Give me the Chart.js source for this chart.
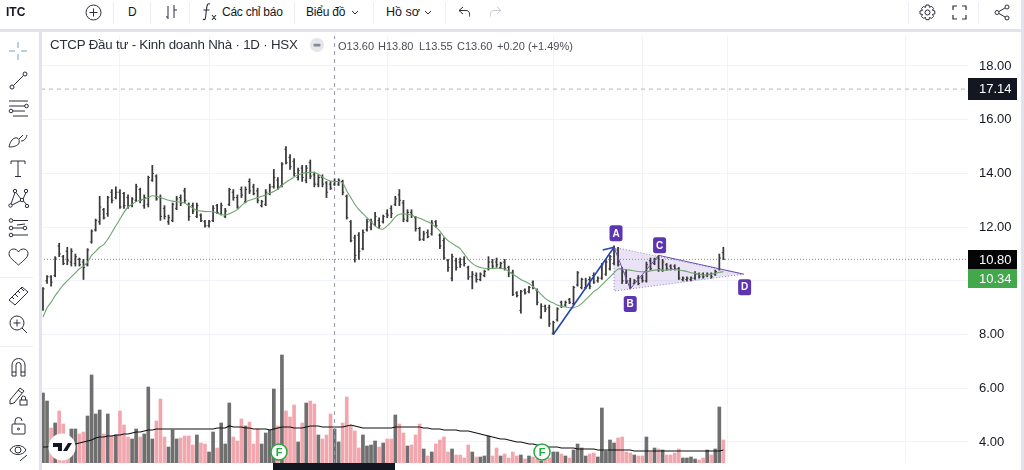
<!DOCTYPE html>
<html lang="vi"><head><meta charset="utf-8"><title>ITC</title>
<script src="https://cdn.jsdelivr.net/npm/chart.js@4"></script>
<style>
html,body{margin:0;padding:0;background:#fff;width:1024px;height:470px;overflow:hidden;font-family:"Liberation Sans",Arial,sans-serif;color:#131722}
#wrap{position:relative;width:1024px;height:470px;overflow:hidden}
canvas{position:absolute;left:0;top:0;z-index:1}
.bar{position:absolute;z-index:2;background:#fff}
.sep{position:absolute;z-index:3;background:#e0e3eb}
.vl{position:absolute;z-index:3;top:2px;width:1px;height:22px;background:#eceef3}
.t{position:absolute;z-index:3;white-space:nowrap;line-height:16px}
svg.i{position:absolute;z-index:3;overflow:visible;fill:none;stroke:#2a2e39;stroke-width:1}
</style></head><body><div id="wrap">
<canvas id="c" width="1024" height="470"></canvas>
<div class="bar" style="left:0;top:0;width:1024px;height:29px"></div>
<div class="bar" style="left:0;top:29px;width:39px;height:441px"></div>
<div class="sep" style="left:0;top:29px;width:1024px;height:3px"></div>
<div class="sep" style="left:39px;top:29px;width:3px;height:441px"></div>
<div class="sep" style="left:1021px;top:0;width:3px;height:470px"></div>
<div class="bar" style="left:273px;top:463px;width:122px;height:7px;background:#131722"></div>

<div class="t" style="left:6px;top:4px;font-size:12px;font-weight:bold">ITC</div>
<div class="t" style="left:128px;top:4px;font-size:12px">D</div>
<div class="t" style="left:222px;top:4px;font-size:12px;letter-spacing:-.25px">Các chỉ báo</div>
<div class="t" style="left:306px;top:4px;font-size:12px;letter-spacing:-.2px">Biểu đồ</div>
<div class="t" style="left:386px;top:4px;font-size:12.5px">Hồ sơ</div>
<div class="vl" style="left:113px"></div><div class="vl" style="left:150px"></div><div class="vl" style="left:189px"></div>
<div class="vl" style="left:294px"></div><div class="vl" style="left:373px"></div><div class="vl" style="left:445px"></div>
<div class="vl" style="left:908px"></div><div class="vl" style="left:978px"></div>

<svg class="i" style="left:85px;top:4px" width="17" height="17"><circle cx="8.5" cy="8.5" r="7.5"/><path d="M8.5 4.5v8M4.5 8.5h8"/></svg>
<svg class="i" style="left:163px;top:3px" width="16" height="18"><path d="M5 3v13M3 14h2M11 2v13M11 7h3M3 15" /></svg>
<svg class="i" style="left:201px;top:2px" width="18" height="20"><path d="M9 2c-3-1-3 2-3.500 5l-1 9c-.3 2-2 2-2.500 1M2.500 8h6M11 13l4 5M15 13l-4 5" stroke-width="1.1"/></svg>
<svg class="i" style="left:351px;top:10px" width="9" height="6"><path d="M1 1l3 3 3-3"/></svg>
<svg class="i" style="left:424px;top:10px" width="9" height="6"><path d="M1 1l3 3 3-3"/></svg>
<svg class="i" style="left:458px;top:6px" width="13" height="12"><path d="M5 1L1 4.500l4 3.500M1 4.500h7c3 0 4 2.500 3.500 6"/></svg>
<svg class="i" style="left:489px;top:6px;stroke:#c8ccd6" width="13" height="12"><path d="M8 1l4 3.500-4 3.500M12 4.500h-7c-3 0-4 2.500-3.500 6"/></svg>
<svg class="i" style="left:919px;top:4px" width="17" height="17"><circle cx="8.500" cy="8.500" r="2.500"/><path d="M7 1h3l.5 2.300 2-1 2 2-1 2 2.300.6v3l-2.300.5 1 2-2 2-2-1-.5 2.300H7l-.5-2.300-2 1-2-2 1-2L1 10V7l2.500-.6-1-2 2-2 2 1z"/></svg>
<svg class="i" style="left:952px;top:5px" width="15" height="15"><path d="M1 5V1h4M10 1h4v4M14 10v4h-4M5 14H1v-4" stroke-width="1.2"/></svg>
<svg class="i" style="left:994px;top:4px" width="16" height="17"><circle cx="3" cy="8.500" r="2"/><circle cx="13" cy="3" r="2"/><circle cx="13" cy="14" r="2"/><path d="M5 7.500l6-3.500M5 9.500l6 3.500"/></svg>

<svg class="i" style="left:8px;top:41px;stroke:#7f9cc4" width="20" height="20"><path d="M10 1v6M10 13v6M1 10h6M13 10h6"/></svg>
<svg class="i" style="left:9px;top:71px" width="19" height="19"><circle cx="3" cy="16" r="2"/><circle cx="16" cy="3" r="2"/><path d="M4.500 14.500l10-10"/></svg>
<svg class="i" style="left:8px;top:100px" width="21" height="19"><path d="M1 1h19M1 6h16M5 11h12M5 16h15"/><circle cx="18.500" cy="6" r="1.800"/><circle cx="3" cy="11" r="1.800"/></svg>
<svg class="i" style="left:8px;top:130px" width="21" height="19"><path d="M1 17c1-5 3-8 6-9 3-1 5 2 4 5-1 3-6 4-10 4zM11 9l4-4M13 11c3 0 5-2 6-6"/></svg>
<svg class="i" style="left:10px;top:160px" width="16" height="18"><path d="M1 4V1h14v3M8 1v15M5 16.500h6"/></svg>
<svg class="i" style="left:8px;top:188px" width="21" height="21"><circle cx="2.500" cy="17.500" r="1.700"/><circle cx="7" cy="3" r="1.700"/><circle cx="18" cy="3" r="1.700"/><circle cx="14" cy="12" r="1.700"/><circle cx="19" cy="18" r="1.700"/><path d="M3 16L7 4.500M8 4.500l5 6.500M15 11L18 4.500M15.500 13l3 3.500M4 17l9-4.500"/></svg>
<svg class="i" style="left:8px;top:218px" width="21" height="19"><circle cx="3" cy="2.500" r="1.800"/><circle cx="3" cy="10" r="1.800"/><circle cx="3" cy="17" r="1.800"/><circle cx="17" cy="10" r="1.800"/><path d="M5 2.500h15M5 10h10M5 17h15M9 7l8-1" /></svg>
<svg class="i" style="left:8px;top:248px" width="21" height="18"><path d="M10.500 17C5 12 1 9.500 1 5.500 1 3 3 1 5.500 1c2 0 4 1 5 3 1-2 3-3 5-3C18 1 20 3 20 5.500c0 4-4 6.500-9.500 11.500z"/></svg>
<div class="sep" style="left:0;top:277px;width:33px;height:1px;background:#eceef3"></div>
<svg class="i" style="left:8px;top:286px" width="21" height="20"><path d="M1 14L14 1l6 5L7 19zM4 11l2 2M7 8l3 3M10 5l2 2M13 2l3 3"/></svg>
<svg class="i" style="left:9px;top:315px" width="19" height="19"><circle cx="8" cy="8" r="7"/><path d="M8 4.500v7M4.500 8h7M13 13l5 5"/></svg>
<div class="sep" style="left:0;top:346px;width:33px;height:1px;background:#eceef3"></div>
<svg class="i" style="left:11px;top:357px" width="15" height="20"><path d="M1 19V8a6.500 6.500 0 0 1 13 0v11h-4V8a2.500 2.500 0 0 0-5 0v11zM1 15h4M10 15h4"/></svg>
<svg class="i" style="left:9px;top:386px" width="19" height="20"><path d="M1 14L11 2l4 3L5 17l-4 1zM9 4l4 3"/><rect x="11" y="14" width="7" height="5"/><path d="M12.500 14v-2a2 2 0 0 1 4 0v2"/></svg>
<svg class="i" style="left:11px;top:416px" width="15" height="19"><rect x="1" y="8" width="13" height="10" rx="1"/><path d="M4 8V5a3.500 3.500 0 0 1 7 0"/><circle cx="7.500" cy="13" r="1"/></svg>
<svg class="i" style="left:9px;top:443px" width="20" height="20"><path d="M1 7c3-6 13-6 16 0-3 6-13 6-16 0z"/><circle cx="9" cy="7" r="3"/><path d="M12 17l6-5M12 17l-1 1"/></svg>

<div class="t" style="left:50px;top:37px;font-size:13.3px;letter-spacing:-.2px;color:#2a2e39">CTCP Đầu tư - Kinh doanh Nhà · 1D · HSX</div>
<svg class="i" style="left:309px;top:37px;stroke:none" width="16" height="16"><circle cx="8" cy="8" r="7" fill="#e4e6ec"/><rect x="4.500" y="6.800" width="7" height="2.600" rx="1" fill="#868993"/></svg>
<div class="t" style="left:338px;top:38px;font-size:11px;color:#4a4e59">O13.60</div>
<div class="t" style="left:378px;top:38px;font-size:11px;color:#4a4e59">H13.80</div>
<div class="t" style="left:419px;top:38px;font-size:11px;color:#4a4e59">L13.55</div>
<div class="t" style="left:457px;top:38px;font-size:11px;color:#4a4e59">C13.60</div>
<div class="t" style="left:497px;top:38px;font-size:11px;color:#4a4e59">+0.20 (+1.49%)</div>

<svg class="i" style="left:48px;top:433px;stroke:none" width="28" height="28"><circle cx="14" cy="14" r="13.500" fill="#fff"/><path d="M5 10h9v8h-4v-4H5zM20 10h4l-5 8h-4z" fill="#131722"/></svg>
<svg class="i" style="left:270px;top:443px;stroke:none" width="18" height="18"><circle cx="9" cy="9" r="8" fill="#fff" stroke="#22ab3e" stroke-width="1.500"/><text x="9" y="13" text-anchor="middle" font-size="11" font-weight="bold" fill="#22ab3e" font-family="Liberation Sans">F</text></svg>
<svg class="i" style="left:533px;top:443px;stroke:none" width="18" height="18"><circle cx="9" cy="9" r="8" fill="#fff" stroke="#22ab3e" stroke-width="1.500"/><text x="9" y="13" text-anchor="middle" font-size="11" font-weight="bold" fill="#22ab3e" font-family="Liberation Sans">F</text></svg>
</div>
<script>
const highs=[9.75,10.2,10.2,10.9,11.4,10.95,11.25,11.2,11.0,10.85,
10.8,11.2,11.9,12.3,13.15,12.7,13.15,13.4,13.5,13.4,
13.3,13.2,13.1,13.6,13.45,13.2,13.9,14.3,13.95,13.2,
12.8,12.45,12.9,13.15,13.2,13.45,12.9,12.9,12.9,12.5,
12.25,12.25,12.8,12.85,12.9,12.7,13.45,13.4,13.2,13.5,
13.5,13.8,13.6,13.45,13.0,13.4,13.6,14.15,13.85,14.4,
15.0,14.7,14.55,14.2,14.3,14.3,14.5,14.05,13.95,13.95,
13.7,13.7,13.8,13.8,13.75,13.2,12.25,11.7,11.8,11.9,
12.3,12.3,12.55,12.35,12.45,12.65,12.8,13.15,13.4,13.0,
12.65,12.65,12.4,12.0,11.85,11.9,12.25,12.25,11.75,11.6,
10.8,11.0,10.85,10.85,10.9,10.55,10.35,10.3,10.3,10.4,
10.9,10.8,10.85,10.7,10.8,10.55,10.4,9.6,9.65,9.7,
9.8,10.0,9.7,9.15,9.1,9.1,8.5,9.0,9.25,9.25,
9.35,9.8,10.35,10.1,10.1,10.15,10.3,10.15,10.65,10.8,
10.95,11.3,11.25,10.5,10.4,10.1,10.05,10.2,10.2,10.7,
10.85,10.85,10.95,10.8,10.65,10.6,10.6,10.5,10.15,10.15,
10.15,10.35,10.3,10.3,10.3,10.3,10.4,11.0,11.25];
const lows=[8.9,9.9,9.8,10.15,10.9,10.6,10.6,10.55,10.55,10.55,
10.05,10.55,11.4,11.85,12.1,12.3,12.4,12.9,13.05,12.7,
12.7,12.7,12.75,12.95,12.9,12.7,12.75,13.7,13.0,12.25,
12.3,12.1,12.2,12.65,12.8,12.9,12.25,12.5,12.35,12.2,
12.0,12.0,12.2,12.5,12.45,12.35,12.8,13.0,12.7,13.1,
12.9,13.25,13.2,12.9,12.75,12.8,13.2,13.45,13.4,13.5,
14.35,14.15,13.9,13.75,13.7,13.65,13.8,13.5,13.5,13.5,
13.1,13.4,13.55,13.55,13.2,12.3,11.45,10.7,10.8,11.15,
11.85,11.9,12.05,11.95,12.15,12.35,12.35,12.8,12.8,12.2,
12.2,12.35,11.85,11.5,11.5,11.6,11.7,12.0,11.2,10.8,
10.35,10.0,10.4,10.5,10.55,10.05,9.7,9.95,10.0,10.15,
10.4,10.45,10.5,10.45,10.4,10.15,9.45,9.4,8.8,9.5,
9.55,9.7,9.1,8.6,8.85,8.3,8.0,8.5,9.0,9.05,
9.15,9.1,9.8,9.7,9.7,9.7,9.9,9.95,10.05,10.2,
10.4,10.6,10.55,9.9,9.9,9.7,9.9,9.85,9.95,9.95,
10.4,10.6,10.35,10.35,10.4,10.4,10.4,10.05,10.0,10.0,
10.0,10.05,10.1,10.1,10.15,10.1,10.2,10.4,10.8];
const opens=[9.0,10.0,10.15,10.2,11.3,10.9,11.1,10.7,10.65,10.8,
10.7,10.6,11.45,11.9,12.2,12.65,12.5,13.3,13.1,13.3,
13.25,13.1,12.8,13.0,13.4,12.8,12.85,13.75,13.9,13.1,
12.7,12.2,12.25,12.7,13.1,13.35,12.85,12.8,12.4,12.45,
12.2,12.05,12.25,12.8,12.5,12.4,12.85,13.3,13.1,13.4,
12.95,13.7,13.5,13.35,12.8,12.85,13.25,13.5,13.75,13.55,
14.9,14.6,14.45,13.85,14.2,13.75,14.4,13.95,13.6,13.85,
13.65,13.6,13.6,13.6,13.7,13.15,12.2,11.6,11.7,11.2,
11.9,12.0,12.1,12.25,12.2,12.5,12.7,12.85,13.2,12.9,
12.25,12.55,12.35,11.95,11.55,11.8,11.75,12.2,11.7,11.5,
10.75,10.1,10.75,10.7,10.8,10.5,10.15,10.2,10.05,10.2,
10.45,10.7,10.7,10.5,10.7,10.5,10.3,9.55,8.9,9.65,
9.6,9.95,9.65,8.65,9.05,9.0,8.05,8.55,9.2,9.1,
9.3,9.15,9.85,9.75,9.75,10.05,10.2,10.0,10.1,10.25,
10.45,10.65,11.15,10.45,10.3,10.0,9.9,10.1,10.1,10.0,
10.75,10.65,10.85,10.4,10.6,10.55,10.55,10.45,10.05,10.05,
10.05,10.1,10.25,10.25,10.2,10.25,10.25,10.45,11.05];
const closes=[9.7,10.15,9.95,10.85,11.0,10.65,10.75,11.1,10.9,10.6,
10.5,11.15,11.85,12.25,12.75,12.35,13.1,13.0,13.3,12.75,
12.8,12.8,13.05,13.5,13.0,13.1,13.85,14.0,13.05,12.4,
12.4,12.35,12.85,13.05,12.9,13.0,12.4,12.6,12.8,12.25,
12.05,12.2,12.7,12.55,12.8,12.6,13.4,13.1,12.75,13.2,
13.4,13.35,13.25,13.0,12.95,13.3,13.5,13.85,13.5,14.35,
14.4,14.25,14.0,14.1,13.85,14.2,13.9,13.6,13.85,13.6,
13.3,13.45,13.7,13.75,13.3,12.35,11.5,10.95,11.1,11.8,
12.2,12.2,12.4,12.05,12.4,12.45,12.5,13.05,13.0,12.3,
12.55,12.45,11.95,11.55,11.75,11.65,12.15,12.05,11.3,10.85,
10.5,10.9,10.5,10.6,10.65,10.15,10.25,10.05,10.25,10.35,
10.7,10.55,10.6,10.65,10.45,10.3,9.5,9.45,9.6,9.55,
9.75,9.75,9.2,9.05,8.95,8.4,8.45,8.95,9.05,9.2,
9.2,9.75,10.3,10.05,10.0,9.8,9.95,10.1,10.6,10.7,
10.9,11.2,10.6,10.0,10.0,9.75,10.0,9.9,10.0,10.6,
10.45,10.8,10.45,10.7,10.45,10.45,10.45,10.1,10.1,10.1,
10.1,10.25,10.15,10.15,10.25,10.15,10.35,10.85,10.8];
const priceMA=[8.65,9.0,9.2,9.45,9.65,9.85,10.0,10.15,10.3,10.45,
10.55,10.7,10.95,11.1,11.25,11.35,11.55,11.8,12.05,12.3,
12.55,12.75,12.85,12.95,13.0,13.05,13.1,13.17,13.15,13.1,
13.05,13.0,12.97,12.95,12.93,12.9,12.8,12.7,12.62,12.6,
12.58,12.58,12.57,12.52,12.47,12.45,12.5,12.57,12.65,12.8,
12.93,13.0,13.05,13.1,13.15,13.2,13.27,13.33,13.42,13.55,
13.67,13.77,13.87,13.95,14.0,14.03,14.04,14.04,13.97,13.87,
13.77,13.72,13.7,13.7,13.65,13.35,13.1,12.85,12.65,12.5,
12.35,12.2,12.05,11.95,11.93,12.05,12.2,12.38,12.48,12.5,
12.48,12.45,12.38,12.33,12.27,12.2,12.12,12.0,11.85,11.65,
11.5,11.4,11.3,11.2,11.0,10.8,10.65,10.55,10.5,10.47,
10.46,10.46,10.47,10.46,10.44,10.35,10.25,10.15,10.05,9.98,
9.9,9.78,9.65,9.5,9.35,9.25,9.18,9.1,9.05,9.03,
9.0,9.0,9.05,9.15,9.3,9.45,9.6,9.7,9.85,10.0,
10.15,10.3,10.44,10.44,10.42,10.4,10.37,10.35,10.34,10.34,
10.37,10.4,10.42,10.4,10.4,10.42,10.42,10.4,10.38,10.35,
10.3,10.28,10.25,10.22,10.22,10.25,10.28,10.32,10.34];
const volumes=[70,62,35,40,52,39,20,34,34,29,
31,47,88,49,53,29,49,27,28,52,
38,26,24,34,26,29,76,24,42,64,
26,16,33,24,25,27,27,18,28,20,
19,11,31,15,40,19,60,26,22,44,
37,41,19,34,19,30,33,74,37,108,
52,46,58,21,40,60,62,59,28,24,
28,49,34,21,40,66,37,32,15,28,
17,18,22,16,20,24,24,48,39,30,
17,18,28,39,14,7,11,19,23,26,
11,14,8,8,5,18,11,6,6,7,
27,7,15,7,9,5,11,7,8,4,
7,6,4,2,3,5,11,11,9,7,
5,13,19,15,7,9,10,6,55,12,
23,20,25,26,11,10,8,7,7,26,
11,15,14,13,8,8,10,14,5,5,
6,4,3,5,13,8,14,56,23];
const grayVolumeBars=[0,1,3,7,8,11,12,13,14,16,18,22,23,25,26,27,31,32,33,38,41,42,44,45,46,50,54,55,56,57,59,63,65,68,72,73,79,80,81,82,84,87,90,94,96,101,106,108,109,110,113,118,120,123,126,127,129,131,132,133,134,137,138,139,140,141,146,149,151,153,158,159,160,161,164,166,167];
const volumeMA=[16,16,17,17,17,18,18,19,19,20,
21,22,23,25,26,26,27,27,28,28,
29,29,30,31,31,32,33,33,34,34,
34,34,34,34,34,34,34,34,34,34,
34,34,34,35,35,35,37,36,36,36,
35,35,34,34,34,34,33,34,35,36,
36,36,35,35,35,36,37,37,37,36,
36,36,36,36,36,37,38,37,36,35,
35,35,35,35,35,35,35,36,36,36,
36,36,36,36,35,35,34,34,34,33,
33,33,33,32,32,32,31,30,29,28,
27,26,25,24,24,23,22,21,21,20,
19,19,18,18,17,16,16,16,15,15,
15,15,14,14,14,14,14,13,13,13,
13,13,13,13,13,13,12,12,12,12,
12,12,12,12,12,12,12,12,12,12,
12,12,12,12,12,12,12,12,13];
const priceTicks=[4,6,8,10,12,14,16,18];
const gridBars=[19,41,85,126,148,169,213];
const crosshairBar=72;
const levelDashed=17.14, levelClose=10.80, levelMA=10.34;
const xabBars=[126,141], xabPrices=[8.0,11.25];
const arrowBars=[138.2,141], arrowPrices=[11.15,11.25];
const triangleBars=[141,173,141,141], trianglePrices=[11.25,10.25,9.62,11.25];
const zigzagBars=[141,145,152,173], zigzagPrices=[11.25,9.7,10.95,10.25];
const patternNames=['A','B','C','D'];

const X_MIN=-0.49, X_MAX=228.4, Y_MIN=3.218, Y_MAX=19.117, VOL_MAX=427;
const idx=highs.map((_,i)=>i);
const xy=(xs,ys)=>xs.map((x,i)=>({x,y:ys[i]}));
const span=(x0,x1,y)=>[{x:x0,y},{x:x1,y}];
const line=(data,color,width,extra)=>Object.assign({type:'line',data,borderColor:color,borderWidth:width,pointRadius:0,tension:0,fill:false},extra||{});

const priceLabels={id:'priceLabels',afterDatasetsDraw(c){
  const g=c.ctx,y=c.scales.y,a=c.chartArea;
  const tags=[[levelDashed,'#131722','#fff'],[levelClose,'#050505','#fff'],[levelMA,'#43a84b','#fff']];
  g.save();
  g.font='13px "Liberation Sans"';g.textBaseline='middle';g.textAlign='left';
  tags.forEach(t=>{const p=Math.round(y.getPixelForValue(t[0]));
    const top=t[0]===levelMA?p-3:t[0]===levelClose?p-9:p-11, h=t[0]===levelDashed?22:19;
    g.fillStyle=t[1];g.fillRect(a.right,top,49,h);
    g.fillStyle=t[2];g.fillText(t[0].toFixed(2),a.right+11,top+h/2+.5);});
  const xs=c.scales.x, off=[[2,-14],[0,15],[1,-10],[1,13]];
  g.font='bold 10px "Liberation Sans"';g.textAlign='center';
  patternNames.forEach((n,i)=>{
    const px=xs.getPixelForValue(zigzagBars[i])+off[i][0],py=y.getPixelForValue(zigzagPrices[i])+off[i][1];
    g.fillStyle='#5e35b1';g.beginPath();g.roundRect(px-6.5,py-8,13,16,2.5);g.fill();
    g.fillStyle='#fff';g.fillText(n,px,py+.5);});
  g.restore();
}};

new Chart(document.getElementById('c'),{
  type:'bar',
  plugins:[priceLabels],
  data:{datasets:[
    {type:'bar',label:'Khối lượng',order:20,yAxisID:'v',grouped:false,barThickness:3,
     data:xy(idx,volumes),
     backgroundColor:idx.map(i=>grayVolumeBars.includes(i)?'#6f6f6f':'#f2a7ae')},
    line(xy(idx,volumeMA),'#111',1.2,{order:15,yAxisID:'v',label:'MA KL'}),
    line(xy(triangleBars,trianglePrices),'#8e7cc3',1,{order:14,label:'Tam giác',fill:'shape',backgroundColor:'rgba(149,117,205,0.2)',borderDash:[1,2]}),
    line(span(X_MIN,X_MAX,levelClose),'#8a8a8a',1,{order:13,label:'Đóng cửa',borderDash:[1,2]}),
    line(span(X_MIN,X_MAX,levelDashed),'#b4b6bb',1,{order:13,label:'Mức',borderDash:[4,4]}),
    line([{x:crosshairBar,y:Y_MIN},{x:crosshairBar,y:Y_MAX}],'#9598a1',1,{order:13,label:'Crosshair',borderDash:[4,4]}),
    {type:'bar',label:'High-Low',order:6,grouped:false,barThickness:1.1,backgroundColor:'#3a3a3a',
     data:idx.map(i=>({x:i,y:[lows[i],highs[i]]}))},
    line(xy(idx,opens),'#3a3a3a',1,{order:5,label:'Open',showLine:false,pointStyle:'dash',pointRadius:1.6,pointRotation:180,pointBorderColor:'#3a3a3a',pointBorderWidth:1}),
    line(xy(idx,closes),'#3a3a3a',1,{order:5,label:'Close',showLine:false,pointStyle:'dash',pointRadius:1.6,pointRotation:0,pointBorderColor:'#3a3a3a',pointBorderWidth:1}),
    line(xy(idx,priceMA),'#6ea56f',1.1,{order:4,label:'MA',tension:.2}),
    line(xy(zigzagBars,zigzagPrices),'#6a4fae',1,{order:3,label:'ABCD'}),
    line(xy(xabBars,xabPrices),'#2647b0',1.6,{order:2,label:'XA'}),
    line(xy(arrowBars,arrowPrices),'#2647b0',1.6,{order:2,label:'Mũi tên'})
  ]},
  options:{
    responsive:false,animation:false,
    events:[],
    layout:{padding:{left:41,top:36,right:0,bottom:7}},
    plugins:{legend:{display:false},tooltip:{enabled:false}},
    scales:{
      x:{type:'linear',offset:false,min:X_MIN,max:X_MAX,
         afterBuildTicks(s){s.ticks=gridBars.map(value=>({value}));},
         afterFit(s){s.height=0;s.paddingLeft=0;s.paddingRight=0;},
         ticks:{display:false},border:{display:false},
         grid:{color:'#f0f3fa',drawTicks:false,offset:false}},
      y:{position:'right',min:Y_MIN,max:Y_MAX,
         afterBuildTicks(s){s.ticks=priceTicks.map(value=>({value}));},
         afterFit(s){s.width=56;s.paddingTop=0;s.paddingBottom=0;},
         border:{display:false},
         grid:{color:'#f0f3fa',drawTicks:false},
         ticks:{padding:11,color:'#131722',font:{size:13,family:'"Liberation Sans"'},callback:v=>Number(v).toFixed(2)}},
      v:{display:false,min:0,max:VOL_MAX}
    }
  }
});
</script></body></html>
